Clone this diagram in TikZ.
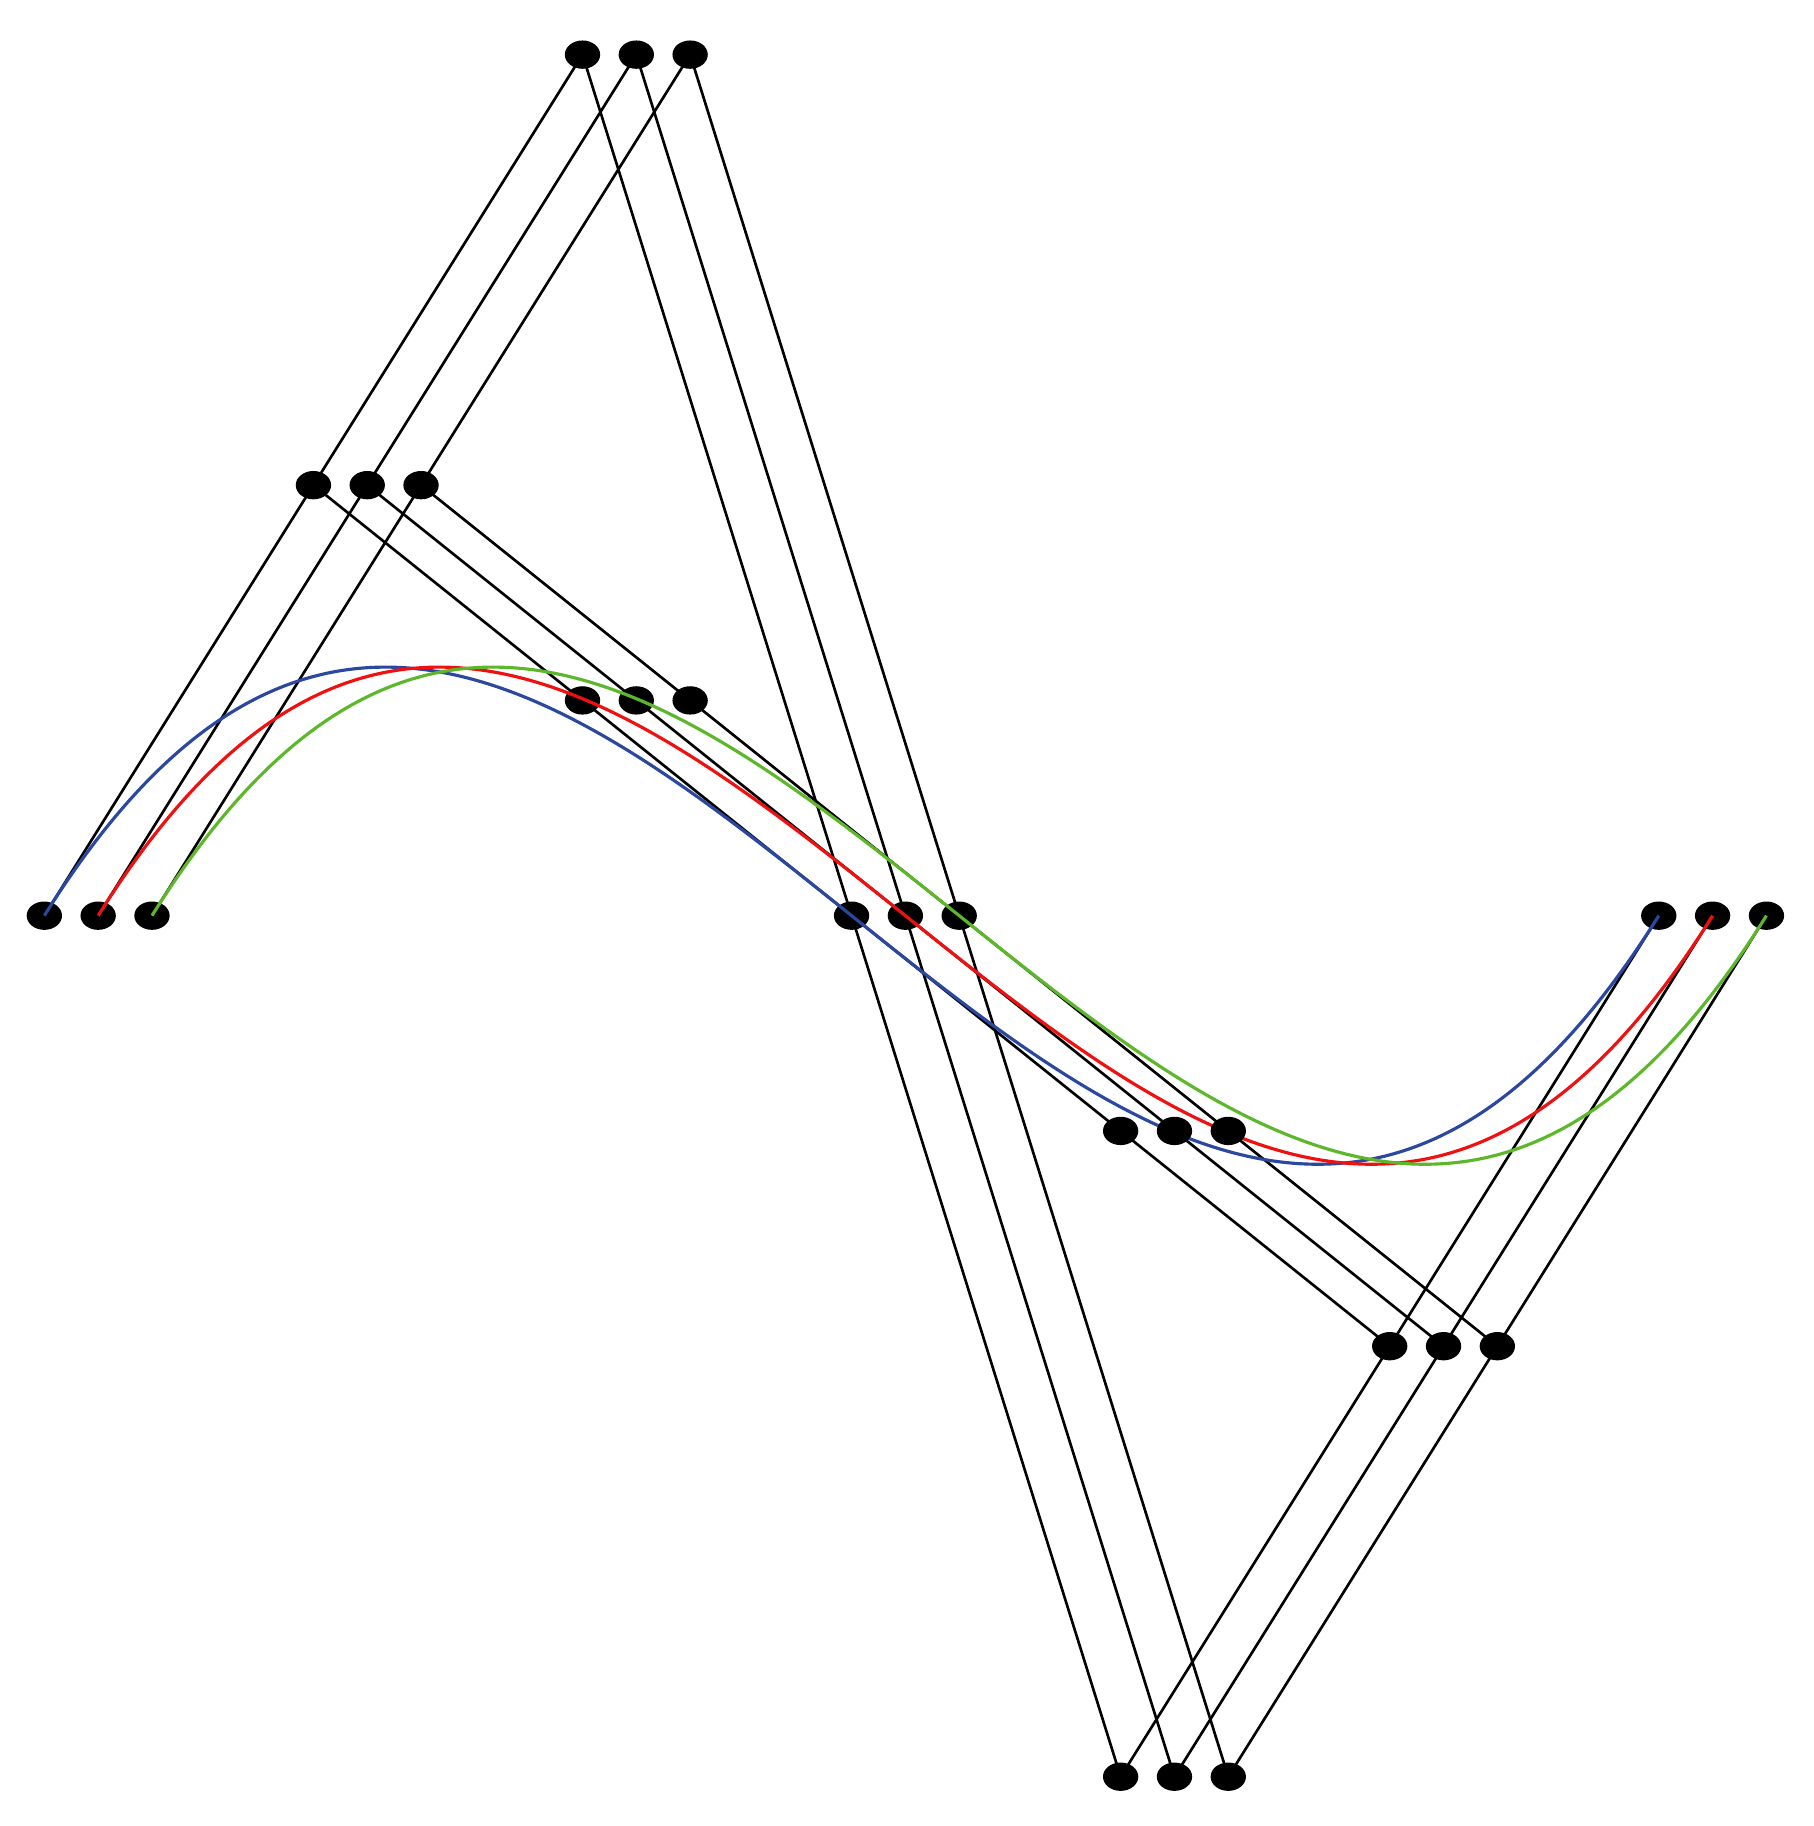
\documentclass[tikz,border=0pt]{standalone}
\usetikzlibrary{shapes.geometric,backgrounds}

\definecolor{curveblue}{RGB}{43,72,160}
\definecolor{curvered}{RGB}{240,16,16}
\definecolor{curvegreen}{RGB}{92,184,42}

\tikzset{
	dot/.style={ellipse, fill=black, inner sep=0pt, minimum width=0.197cm, minimum height=0.158cm},
	rod/.style={black, line width=0.42pt},
	bez/.style={line width=0.5pt}
}

\begin{document}
\begin{tikzpicture}[x=3cm,y=2.4cm]
	\useasboundingbox (-0.0824,-2.1145) rectangle (3.2875,2.127);
	% control points and the de Casteljau points, three copies side by side
	\foreach \k in {0,1,2}{
		\begin{scope}[xshift=\k*3mm]
			\node[dot] (p0\k) at (0,0) {};
			\node[dot] (p1\k) at (1,2) {};
			\node[dot] (p2\k) at (2,-2) {};
			\node[dot] (p3\k) at (3,0) {};
			\node[dot] (m01\k) at (0.5,1) {};
			\node[dot] (m12\k) at (1.5,0) {};
			\node[dot] (m23\k) at (2.5,-1) {};
			\node[dot] (q0\k) at (1,0.5) {};
		\end{scope}
		\begin{scope}[on background layer]
			\draw[rod] (p0\k.center) -- (p1\k.center) -- (p2\k.center) -- (p3\k.center);
			\draw[rod] (m01\k.center) -- (m12\k.center) -- (m23\k.center);
		\end{scope}
	}
	% the curves
	\foreach \k/\col in {0/curveblue,1/curvered,2/curvegreen}{
		\draw[bez,\col] (p0\k.center) .. controls (p1\k.center) and (p2\k.center) .. (p3\k.center);
	}
	\foreach \k in {0,1,2}{
		\begin{scope}[xshift=\k*3mm]
			\node[dot] (q1\k) at (2,-0.5) {};
		\end{scope}
	}
\end{tikzpicture}
\end{document}
